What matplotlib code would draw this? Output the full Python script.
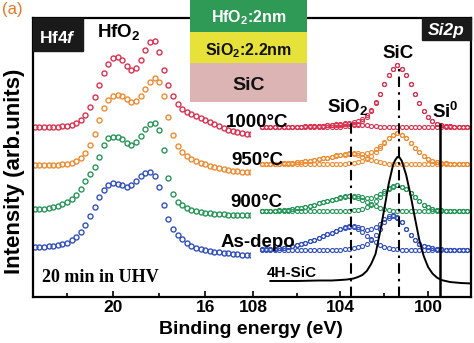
import matplotlib
matplotlib.use("Agg")
import numpy as np
import matplotlib.pyplot as plt
from matplotlib.patches import Rectangle

plt.rcParams['font.family'] = ['Liberation Sans', 'DejaVu Sans']
plt.rcParams['font.weight'] = 'bold'
plt.rcParams['mathtext.fontset'] = 'custom'
plt.rcParams['mathtext.rm'] = 'Liberation Sans:bold'
plt.rcParams['mathtext.bf'] = 'Liberation Sans:bold'
plt.rcParams['mathtext.it'] = 'Liberation Sans:italic:bold'
plt.rcParams['mathtext.default'] = 'rm'

# ---- Hf4f region (left panel) ----
E_hf = [23.4, 23.2, 23.0, 22.8, 22.6, 22.4, 22.2, 22.0, 21.8, 21.6, 21.4, 21.2,
        21.0, 20.8, 20.6, 20.4, 20.2, 20.0, 19.8, 19.6, 19.4, 19.2, 19.0, 18.8,
        18.6, 18.4, 18.2, 18.0, 17.8, 17.6, 17.4, 17.2, 17.0, 16.8, 16.6, 16.4,
        16.2, 16.0, 15.8, 15.6, 15.4, 15.2, 15.0, 14.8, 14.6, 14.4, 14.2, 14.0]
hf_1000 = [170, 170, 170, 170, 170.5, 170.5, 171, 171.5, 172, 174, 177, 182,
           190, 200, 212, 224, 233, 239, 240, 237, 231, 227, 229, 237,
           247, 255, 256, 245, 227, 212, 201, 193, 188, 185, 183, 181,
           179, 177, 175, 173, 171, 169, 167.5, 166, 165, 164, 163.5, 163]
hf_950 = [132, 132, 132, 132, 132.5, 132.5, 133, 133.5, 134, 136, 139, 144,
          152, 163, 177, 189, 197, 201, 202, 201, 198, 195, 196, 201,
          208, 215, 219, 215, 201, 180, 162, 151, 145, 141, 138, 136,
          134.5, 133, 131.5, 130, 129, 128, 127, 126.5, 126, 125.5, 125, 125]
hf_900 = [88, 88, 88.5, 89, 90, 91, 93, 95, 98, 102, 108, 116,
          123, 130, 140, 152, 159, 160, 160, 158, 154, 152, 155, 161,
          168, 173, 174, 167, 147, 119, 103, 95, 92, 89, 87, 86,
          85, 84.5, 84, 83.5, 83, 83, 82.5, 82, 82, 82, 82, 82]
hf_asdepo = [50, 50, 50.5, 51, 51.5, 52, 53, 54, 57, 60, 65, 72,
             81, 90, 100, 107, 112, 114, 113.5, 112, 110, 112, 116, 121,
             124, 125, 121, 110, 92, 78, 68, 62, 58, 54, 51, 49,
             48, 47, 46, 45.5, 45, 44.5, 44, 43.5, 43, 42.5, 42, 42]

# ---- Si2p region (right panel): fitted components above each baseline ----
E_si = [107.6, 107.4, 107.2, 107.0, 106.8, 106.6, 106.4, 106.2, 106.0, 105.8,
        105.6, 105.4, 105.2, 105.0, 104.8, 104.6, 104.4, 104.2, 104.0, 103.8,
        103.6, 103.4, 103.2, 103.0, 102.8, 102.6, 102.4, 102.2, 102.0, 101.8,
        101.6, 101.4, 101.2, 101.0, 100.8, 100.6, 100.4, 100.2, 100.0, 99.8,
        99.6, 99.4, 99.2, 99.0, 98.8, 98.6, 98.4, 98.2]
si_offset = [170, 133, 86, 47.5]   # 1000C, 950C, 900C, as-depo

sio2_1000 = [0, 0, 0, 0, 0, 0, 0.5, 0.5, 0.5, 0.5, 1, 1, 1, 1.5, 1.5, 2, 2,
             2.5, 2.5, 3, 3, 3, 2.5, 2, 2, 1.5, 1, 0.5, 0.5, 0, 0, 0, 0] + [0] * 15
sio2_950 = [0, 0.5, 0.5, 0.5, 0.5, 1, 1, 1.5, 2, 2.5, 3, 3.5, 4.5, 5, 6, 6.5,
            7.5, 8.5, 9, 9.5, 10, 10, 9, 7.5, 6, 4.5, 3, 2, 1, 0.5, 0.5, 0, 0] + [0] * 15
sio2_900 = [0.5, 0.5, 0.5, 0.5, 1, 1.5, 1.5, 2.5, 3, 3.5, 4.5, 5.5, 6.5, 8, 9,
            10, 11, 12.5, 13.5, 14.5, 15, 14.5, 13.5, 11.5, 9, 7, 5, 3.5, 2, 1,
            0.5, 0.5, 0] + [0] * 15
sio2_asdepo = [0.5, 0.5, 1, 1, 1.5, 2, 2.5, 3.5, 4.5, 5.5, 7, 8.5, 10, 12, 13.5,
               15.5, 17, 19, 20.5, 22, 23, 22.5, 20.5, 17.5, 14, 10.5, 7.5, 5, 3,
               1.5, 1, 0.5, 0] + [0] * 15

sic_1000 = [0] * 17 + [0.5, 0.5, 1, 1.5, 2, 3.5, 6, 10, 16, 24, 33, 43, 52, 58,
                       62, 58, 52, 43, 33, 24, 16, 10, 6, 3.5, 2, 1.5, 1, 0.5, 0.5, 0, 0]
sic_950 = [0] * 17 + [0.5, 0.5, 0.5, 1, 1, 2, 3, 5, 8, 12, 16.5, 21.5, 26, 29,
                      31, 29, 26, 21.5, 16.5, 12, 8, 5, 3, 2, 1, 1, 0.5, 0.5, 0, 0, 0]
sic_900 = [0] * 17 + [0, 0.5, 0.5, 0.5, 1, 1.5, 2.5, 4, 6.5, 10, 14, 18, 22, 24.5,
                      26, 24.5, 22, 18, 14, 10, 6.5, 4, 2.5, 1.5, 1, 0.5, 0.5, 0.5, 0, 0, 0]
sic_asdepo = [0] * 19 + [0.5, 1, 1.5, 2.5, 4, 6, 10, 15, 21, 28, 32, 34, 32, 28,
                         21, 15, 10, 6, 4, 2.5, 1.5, 1, 0.5] + [0] * 6

# 4H-SiC reference spectrum
E_ref = [107.2, 106.0, 105.0, 104.4, 104.0, 103.7, 103.4, 103.2, 103.0, 102.8,
         102.6, 102.4, 102.2, 102.0, 101.8, 101.6, 101.5, 101.4, 101.3, 101.2,
         101.0, 100.8, 100.6, 100.4, 100.2, 100.0, 99.8, 99.6, 99.4, 99.0, 98.5, 98.0]
I_ref = [16, 16, 16.5, 16.5, 17, 17.5, 18.5, 20, 22, 26, 33, 43, 64, 88, 113,
         132, 137, 140, 139.5, 136, 122, 102, 79, 57, 41, 30, 23.5, 19.5, 17, 15, 14, 13.5]

guide_E = [103.52, 101.32]
guide_top = [179, 232]
si0_E = [99.47]
si0_top = [174]

colors = ['#dc3250', '#f08c32', '#28965a', '#3250be']
temp_labels = ['1000°C', '950°C', '900°C', 'As-depo']
label_E = [106.39, 106.62, 106.67, 106.07]
label_y = [170, 132, 90, 50]

W, H = 474, 343
def px_box(x0, y0, x1, y1):
    return [x0 / W, 1 - y1 / H, (x1 - x0) / W, (y1 - y0) / H]

fig = plt.figure(figsize=(4.74, 3.43), dpi=100)
ax1 = fig.add_axes(px_box(33, 18, 250, 297))
ax2 = fig.add_axes(px_box(252, 18, 471, 297))

hf_series = [hf_1000, hf_950, hf_900, hf_asdepo]
for ys, c in zip(hf_series, colors):
    ax1.plot(E_hf, ys, 'o', ms=3.6, mfc='none', mec=c, mew=1.0)

sio2_series = [sio2_1000, sio2_950, sio2_900, sio2_asdepo]
sic_series = [sic_1000, sic_950, sic_900, sic_asdepo]
for off, s1, s2, c in zip(si_offset, sio2_series, sic_series, colors):
    s1 = np.array(s1, float)
    s2 = np.array(s2, float)
    for ys in (off + s1, off + s2, off + s1 + s2):
        ax2.plot(E_si, ys, 'o', ms=2.9, mfc='none', mec=c, mew=0.8)

ax2.plot(E_ref, I_ref, color='black', lw=1.4, zorder=4)
ax2.vlines(guide_E, 0, guide_top, colors='black', lw=1.5,
           linestyles=[(0, (5, 2.5, 1.2, 2.5))], zorder=4)
ax2.vlines(si0_E, 0, si0_top, colors='black', lw=1.8, zorder=4)

for ax in (ax1, ax2):
    ax.set_ylim(0, 279)
    ax.set_yticks([])
    for sp in ax.spines.values():
        sp.set_linewidth(1.6)
    ax.tick_params(axis='x', which='both', direction='in', width=1.2,
                   labelsize=12.5, pad=2)
    ax.tick_params(axis='x', which='major', length=4)
    ax.tick_params(axis='x', which='minor', length=3)
ax1.spines['right'].set_visible(False)
ax2.spines['left'].set_visible(False)
ax1.set_xlim(23.48, 14.05)
ax2.set_xlim(108.04, 98.04)
ax1.set_xticks([20, 16])
ax1.set_xticks([22, 18], minor=True)
ax2.set_xticks([108, 104, 100])
ax2.set_xticks([106, 102], minor=True)

# labels inside panels
ax1.text(20.7, 260, 'HfO$_2$', fontsize=13.5, ha='left', va='baseline')
ax1.text(23.08, 15, '20 min in UHV', fontsize=13, ha='left', va='baseline',
         family=['Liberation Serif', 'DejaVu Serif'])
ax2.text(101.37, 239, 'SiC', fontsize=13.5, ha='center', va='baseline')
ax2.text(104.61, 185, 'SiO$_2$', fontsize=13.5, ha='left', va='baseline')
ax2.text(99.82, 179, 'Si$^0$', fontsize=13.5, ha='left', va='baseline')
ax2.text(107.35, 20, '4H-SiC', fontsize=11, ha='left', va='baseline')
for t, xe, yv in zip(temp_labels, label_E, label_y):
    ax2.text(xe, yv, t, fontsize=13.5, ha='right', va='baseline', clip_on=False)

# Hf4f / Si2p tags
ax1.add_patch(Rectangle((0, 1 - 33 / 279), 50 / 217, 33 / 279, transform=ax1.transAxes,
                        color='#1a1a1a', zorder=6, clip_on=False))
ax1.text(25 / 217, 1 - 25 / 279, 'Hf4$\\mathit{f}$', transform=ax1.transAxes,
         color='white', fontsize=12.5, ha='center', va='baseline', zorder=7)
ax2.add_patch(Rectangle((170 / 219, 1 - 22 / 279), 49 / 219, 22 / 279, transform=ax2.transAxes,
                        color='#1a1a1a', zorder=6, clip_on=False))
ax2.text(194 / 219, 1 - 17 / 279, 'Si2p', transform=ax2.transAxes, color='white',
         fontsize=12.5, style='italic', ha='center', va='baseline', zorder=7)

# layer stack sketch
layers = [('HfO$_2$:2nm', '#2e9a55', 'white', 0, 32, 22, 11.5),
          ('SiO$_2$:2.2nm', '#e6e23a', '#111111', 32, 63, 55, 11.5),
          ('SiC', '#dcb4b4', '#111111', 63, 102, 90, 14)]
for txt, fc, tc, y0, y1, yb, fs in layers:
    fig.add_artist(Rectangle((190 / W, 1 - y1 / H), 117 / W, (y1 - y0) / H,
                             transform=fig.transFigure, facecolor=fc,
                             edgecolor='none', zorder=10))
    fig.text(248.5 / W, 1 - yb / H, txt, color=tc, fontsize=fs, ha='center',
             va='baseline', zorder=11)

fig.text(2 / W, 1 - 2 / H, '(a)', color='#e87722', fontsize=12, fontweight='normal',
         ha='left', va='top')
fig.text(251 / W, 1 - 334 / H, 'Binding energy (eV)', fontsize=14, ha='center',
         va='baseline')
fig.text(15 / W, 1 - 171 / H, 'Intensity (arb.units)', fontsize=16, rotation=90,
         ha='center', va='center')

fig.savefig('out.png', dpi=100)
